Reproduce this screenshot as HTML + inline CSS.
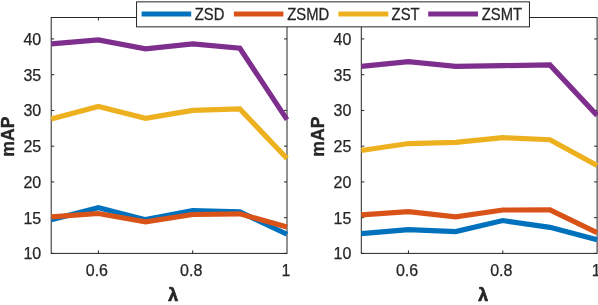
<!DOCTYPE html>
<html><head><meta charset="utf-8"><title>mAP vs lambda</title>
<style>
html,body{margin:0;padding:0;background:#fff;}
svg{display:block;}
text{font-family:"Liberation Sans","DejaVu Sans",sans-serif;fill:#262626;}
.t{font-size:16px;stroke:#262626;stroke-width:0.25px;}
.g{font-size:14.8px;stroke:#262626;stroke-width:0.25px;}
.l{font-size:17.6px;font-weight:bold;fill:#262626;}
</style></head><body>
<svg width="598" height="305" viewBox="0 0 598 305">
<rect width="598" height="305" fill="#fff"/>

<g stroke="#262626" stroke-width="1" fill="none">
<rect x="51.2" y="17.5" width="235.8" height="235.9"/>
<path d="M98.36,253.4v-3M98.36,17.5v3M192.68,253.4v-3M192.68,17.5v3M51.2,253.40h3M287.0,253.40h-3M51.2,217.66h3M287.0,217.66h-3M51.2,181.92h3M287.0,181.92h-3M51.2,146.17h3M287.0,146.17h-3M51.2,110.43h3M287.0,110.43h-3M51.2,74.69h3M287.0,74.69h-3M51.2,38.95h3M287.0,38.95h-3"/>
</g>
<g fill="none" stroke-width="5.2" stroke-linejoin="miter" stroke-linecap="butt">
<polyline points="51.20,219.80 98.36,207.65 145.52,219.66 192.68,210.51 239.84,211.94 287.00,234.24" stroke="#0072BD"/>
<polyline points="51.20,216.94 98.36,213.51 145.52,221.80 192.68,214.51 239.84,213.80 287.00,227.09" stroke="#D95319"/>
<polyline points="51.20,119.01 98.36,106.50 145.52,118.29 192.68,110.43 239.84,109.00 287.00,158.54" stroke="#EDB120"/>
<polyline points="51.20,43.95 98.36,39.87 145.52,48.81 192.68,43.95 239.84,48.24 287.00,119.58" stroke="#7E2F8E"/>
</g>
<text class="t" x="41.2" y="259.4" text-anchor="end">10</text>
<text class="t" x="41.2" y="223.7" text-anchor="end">15</text>
<text class="t" x="41.2" y="187.9" text-anchor="end">20</text>
<text class="t" x="41.2" y="152.2" text-anchor="end">25</text>
<text class="t" x="41.2" y="116.4" text-anchor="end">30</text>
<text class="t" x="41.2" y="80.7" text-anchor="end">35</text>
<text class="t" x="41.2" y="44.9" text-anchor="end">40</text>
<text class="t" x="96.9" y="276.4" text-anchor="middle">0.6</text>
<text class="t" x="191.2" y="276.4" text-anchor="middle">0.8</text>
<text class="t" x="286.0" y="276.4" text-anchor="middle">1</text>
<text class="l" x="173.1" y="300.8" text-anchor="middle" stroke="#262626" stroke-width="0.7">λ</text>
<text class="l" transform="translate(14.0,136.6) rotate(-90)" text-anchor="middle" stroke="#262626" stroke-width="0.35">mAP</text>
<g stroke="#262626" stroke-width="1" fill="none">
<rect x="361.3" y="17.5" width="235.8" height="235.9"/>
<path d="M408.46,253.4v-3M408.46,17.5v3M502.78,253.4v-3M502.78,17.5v3M361.3,253.40h3M597.1,253.40h-3M361.3,217.66h3M597.1,217.66h-3M361.3,181.92h3M597.1,181.92h-3M361.3,146.17h3M597.1,146.17h-3M361.3,110.43h3M597.1,110.43h-3M361.3,74.69h3M597.1,74.69h-3M361.3,38.95h3M597.1,38.95h-3"/>
</g>
<g fill="none" stroke-width="5.2" stroke-linejoin="miter" stroke-linecap="butt">
<polyline points="361.30,233.67 408.46,229.67 455.62,231.60 502.78,220.52 549.94,227.31 597.10,239.82" stroke="#0072BD"/>
<polyline points="361.30,214.80 408.46,211.65 455.62,216.94 502.78,210.01 549.94,209.94 597.10,232.67" stroke="#D95319"/>
<polyline points="361.30,150.53 408.46,143.53 455.62,142.46 502.78,137.67 549.94,139.74 597.10,165.47" stroke="#EDB120"/>
<polyline points="361.30,66.32 408.46,61.68 455.62,66.32 502.78,65.61 549.94,64.89 597.10,115.43" stroke="#7E2F8E"/>
</g>
<text class="t" x="351.3" y="259.4" text-anchor="end">10</text>
<text class="t" x="351.3" y="223.7" text-anchor="end">15</text>
<text class="t" x="351.3" y="187.9" text-anchor="end">20</text>
<text class="t" x="351.3" y="152.2" text-anchor="end">25</text>
<text class="t" x="351.3" y="116.4" text-anchor="end">30</text>
<text class="t" x="351.3" y="80.7" text-anchor="end">35</text>
<text class="t" x="351.3" y="44.9" text-anchor="end">40</text>
<text class="t" x="407.0" y="276.4" text-anchor="middle">0.6</text>
<text class="t" x="501.3" y="276.4" text-anchor="middle">0.8</text>
<text class="t" x="596.1" y="276.4" text-anchor="middle">1</text>
<text class="l" x="483.2" y="300.8" text-anchor="middle" stroke="#262626" stroke-width="0.7">λ</text>
<text class="l" transform="translate(324.1,136.6) rotate(-90)" text-anchor="middle" stroke="#262626" stroke-width="0.35">mAP</text>
<rect x="136.55" y="1.85" width="392.9" height="25" fill="#fff" stroke="#262626" stroke-width="1"/>
<line x1="141.6" y1="14" x2="191.2" y2="14" stroke="#0072BD" stroke-width="5.2"/>
<text class="g" transform="translate(194.8,20.0) scale(1,1.1)">ZSD</text>
<line x1="233.9" y1="14" x2="283.4" y2="14" stroke="#D95319" stroke-width="5.2"/>
<text class="g" transform="translate(287.3,20.0) scale(1,1.1)">ZSMD</text>
<line x1="338.4" y1="14" x2="388.3" y2="14" stroke="#EDB120" stroke-width="5.2"/>
<text class="g" transform="translate(391.6,20.0) scale(1,1.1)">ZST</text>
<line x1="428.2" y1="14" x2="478.0" y2="14" stroke="#7E2F8E" stroke-width="5.2"/>
<text class="g" transform="translate(481.8,20.0) scale(1,1.1)">ZSMT</text>
</svg></body></html>
